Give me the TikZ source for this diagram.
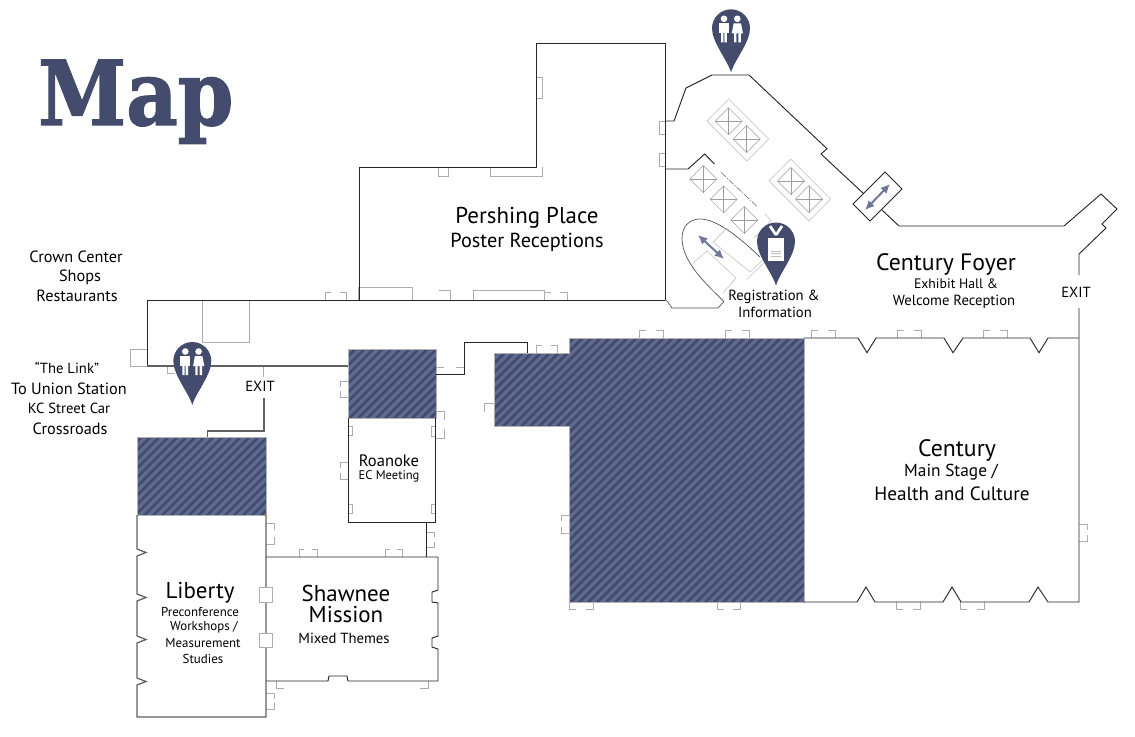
\documentclass[tikz,border=0pt]{standalone}
\usepackage{fontspec}
\setmainfont{PT Sans}
\newfontfamily\mapfont[BoldFeatures={FakeBold=1.6}]{DejaVu Serif}
\usetikzlibrary{arrows.meta}
\definecolor{pinblue}{HTML}{444C6D}
\definecolor{stripelight}{HTML}{5F6A92}
\definecolor{arrowblue}{HTML}{6F7899}
\tikzset{
wallblack/.style={draw=black!85,line width=.7pt,line join=miter},
wallgrey/.style={draw=black!62,line width=.95pt,line join=miter},
wallthin/.style={draw=black!70,line width=.5pt},
doorgrey/.style={draw=black!32,line width=.6pt},
kioskouter/.style={draw=black!20,line width=.55pt},
kioskinner/.style={draw=black!38,line width=.35pt},
stripeline/.style={draw=stripelight,line width=2.4pt},
stripeedge/.style={draw=black!30,line width=.6pt},
movearrow/.style={draw=arrowblue,line width=1.5pt,{Latex[length=7pt,width=6.5pt]}-{Latex[length=7pt,width=6.5pt]}},
namebig/.style={inner sep=0pt,font=\fontsize{17.2}{20}\selectfont},
namelarge/.style={inner sep=0pt,font=\fontsize{17.8}{20}\selectfont},
nameposter/.style={inner sep=0pt,font=\fontsize{15.2}{18}\selectfont},
namemid/.style={inner sep=0pt,font=\fontsize{14.4}{16}\selectfont},
nameroom/.style={inner sep=0pt,font=\fontsize{12.4}{15}\selectfont},
nameside/.style={inner sep=0pt,font=\fontsize{12.2}{15}\selectfont},
namesmall/.style={inner sep=0pt,font=\fontsize{11}{13}\selectfont},
nametiny/.style={inner sep=0pt,font=\fontsize{9.7}{11}\selectfont},
kioskmark/.pic={
\draw[kioskinner] (-13.5,0) -- (0,-13.5) -- (13.5,0) -- (0,13.5) -- cycle;
\draw[kioskinner] (-13.5,0) -- (13.5,0) (0,-13.5) -- (0,13.5);
},
pinbody/.pic={
\fill[pinblue] (0,44) .. controls (-4,31) and (-19,14) .. (-19,0) arc[start angle=180,end angle=360,radius=19] .. controls (19,14) and (4,31) .. (0,44) -- cycle;
},
restroomicon/.pic={
\fill[white] (-7,-9.5) circle[radius=3.3] (6.3,-9.5) circle[radius=3.3];
\fill[white] (-12,-5) rectangle (-2,4.5);
\fill[white] (-10,4) rectangle (-7.6,14) (-6.6,4) rectangle (-4.2,14);
\fill[white] (2.6,-5) -- (10,-5) -- (12,5) -- (0.8,5) -- cycle;
\fill[white] (3,4) rectangle (5.4,14) (7.4,4) rectangle (9.8,14);
},
}
\begin{document}
\begin{tikzpicture}[x=.75pt,y=-.75pt]
\useasboundingbox (0,0) rectangle (1135,736);

% striped rooms
\fill[pinblue] (494,353) -- (569,353) -- (569,338) -- (804,338) -- (804,602) -- (569,602) -- (569,426) -- (494,426) -- cycle;
\fill[pinblue] (348,349) rectangle (436,418);
\fill[pinblue] (137,437) rectangle (266,515);
\begin{scope}
\clip (494,353) -- (569,353) -- (569,338) -- (804,338) -- (804,602) -- (569,602) -- (569,426) -- (494,426) -- cycle
(348,349) rectangle (436,418)
(137,437) rectangle (266,515);
\foreach \s in {-400,-391,...,1500} {
\draw[stripeline] (\s,740) -- ++(720,-720);
}
\end{scope}
\draw[stripeedge] (494,353) -- (569,353) -- (569,338) -- (804,338) -- (804,602) -- (569,602) -- (569,426) -- (494,426) -- cycle;
\draw[stripeedge] (348,349) rectangle (436,418);
\draw[stripeedge] (137,437) rectangle (266,515);

% door marks on the walls
\foreach \xa/\ya/\w in {325/300/21,544/300/23,536/353/21,639/338/24,725/338/24,811/338/24,897/338/24,983/338/24,299/557/18,385/557/17} {
\draw[doorgrey] (\xa,\ya) -- ++(0,-7.5) -- ++({.3*\w},0);
\draw[doorgrey] (\xa+\w,\ya) -- ++(0,-7.5) -- ++({-.3*\w},0);
}
\foreach \xa/\ya/\w in {569/602/24,717/602/23,896/602/24,960/602/24} {
\draw[doorgrey] (\xa,\ya) -- ++(0,7.5) -- ++({.3*\w},0);
\draw[doorgrey] (\xa+\w,\ya) -- ++(0,7.5) -- ++({-.3*\w},0);
}
\foreach \xa/\ya/\w in {348/381/16,348/462/17,569/515/18} {
\draw[doorgrey] (\xa,\ya) -- ++(-8,0) -- ++(0,{.35*\w});
\draw[doorgrey] (\xa,\ya+\w) -- ++(-8,0) -- ++(0,{-.35*\w});
}
\foreach \xa/\ya/\w in {436/411/27,266/523/21,426/532/15,266/693/16,1079/524/17} {
\draw[doorgrey] (\xa,\ya) -- ++(8,0) -- ++(0,{.35*\w});
\draw[doorgrey] (\xa,\ya+\w) -- ++(8,0) -- ++(0,{-.35*\w});
}
\draw[doorgrey] (436,367) -- (444,367) (456,367) -- (464,367);
\draw[doorgrey] (494,403) -- (484,403) -- (484,412);
\draw[doorgrey] (167,366) -- (167,373) -- (175,373);
\draw[doorgrey] (439,290) -- (450,290) -- (450,300);
\draw[doorgrey] (263,366) -- (263,377);
\draw[doorgrey] (276,681) -- (276,688) -- (284,688);
\draw[doorgrey] (420,688) -- (428,688) -- (428,681);
\draw[doorgrey] (358,300) -- (358,287) -- (412,287) -- (412,300);
\draw[doorgrey] (473,300) -- (473,290) -- (544,290) -- (544,300);
\draw[doorgrey] (202,300) -- (202,342) -- (249,342) -- (249,300);
\draw[doorgrey] (147,349) -- (130,349) -- (130,366) -- (147,366);
\draw[doorgrey] (536,77) -- (542,77) -- (542,98) -- (536,98);
\draw[doorgrey] (665,121) -- (659,121) -- (659,134) -- (665,134);
\draw[doorgrey] (665,153) -- (659,153) -- (659,166) -- (665,166);
\draw[doorgrey] (438,167) -- (438,176) -- (448,176) -- (448,167);
\draw[doorgrey] (490,167) -- (490,176) -- (542,176) -- (542,167);
\draw[doorgrey] (348,426) -- (352.5,426) -- (352.5,435) -- (348,435);
\draw[doorgrey] (435,426) -- (431,426) -- (431,436) -- (435,436);
\draw[doorgrey] (348,504) -- (352.5,504) -- (352.5,513) -- (348,513);
\draw[doorgrey] (435,504) -- (431,504) -- (431,513) -- (435,513);

% walls
\draw[wallblack] (665,300) -- (359,300) -- (359,167) -- (536,167) -- (536,43) -- (665,43) -- (665,300);
\draw[wallblack] (359,300) -- (147,300) -- (147,366);
\draw[wallgrey] (147,366) -- (348,366);
\draw[wallblack] (436,374) -- (464,374) -- (464,342) -- (527,342) -- (527,353);
\draw[wallgrey] (207.5,437) -- (207.5,431) -- (264,431) -- (264,398);
\draw[wallblack] (348,418) -- (348,522) -- (435,522) -- (435,418);
\draw[wallblack] (426,522) -- (426,557);
\draw[wallgrey] (137,515) -- (137,549) -- (146,552.5) -- (137,556) -- (137,594) -- (146,597.5) -- (137,601) -- (137,636) -- (146,639.5) -- (137,643) -- (137,678) -- (146,681.5) -- (137,685) -- (137,717) -- (266,717) -- (266,515);
\draw[wallblack] (266,557) -- (438,557) -- (438,590) -- (432,592) -- (432,602) -- (438,603) -- (438,636) -- (432,638) -- (432,647) -- (438,649) -- (438,681) -- (348,681) -- (347,676) -- (329,676) -- (328,681) -- (266,681);
\draw[wallblack] (665,121) -- (674,121) -- (686,88) -- (712,75) -- (749,75) -- (827,148.7) -- (821,154) -- (864,194);
\draw[wallblack] (882,210) -- (899,226) -- (1064,226) -- (1101,194) -- (1117,209) -- (1102,224) -- (1106,228) -- (1079,254) -- (1079,275);
\draw[wallblack] (1079,308) -- (1079,602) -- (1048,602) -- (1038,587) -- (1029,602) -- (961,602) -- (952,587) -- (943,602) -- (875,602) -- (866,587) -- (857,602) -- (804,602);
\draw[wallblack] (804,338) -- (858,338) -- (867,352.7) -- (876,338) -- (944,338) -- (953,352.7) -- (963,338) -- (1030,338) -- (1039,352.7) -- (1048,338) -- (1079,338);
\draw[wallblack] (665,169) -- (688,169) -- (704.7,154) -- (714.5,164);
\draw[wallthin] (665,300) -- (667,301) -- (672,308) -- (718,308) -- (724,301.5) .. controls (706,284) and (682,262) .. (682,238) .. controls (682,226) and (690,219) .. (700,219) .. controls (718,219) and (742,240) .. (760,257);

% white door boxes
\draw[doorgrey,fill=white] (259,587) rectangle (272,602);
\draw[doorgrey,fill=white] (259,633) rectangle (272,647);

% escalator and kiosks
\draw[wallblack,fill=white,line width=.6pt] (885,172) -- (902,189) -- (870,221) -- (853,204) -- cycle;
\draw[movearrow] (865,210) -- (890,184);
\draw[kioskouter] (728.7,99) -- (768.7,139) -- (747,161) -- (707,121) -- cycle;
\draw[kioskouter] (790.7,159) -- (830.7,199) -- (809,221) -- (769,181) -- cycle;
\foreach \xa/\ya in {728.7/121.3,746.7/139,791/181,809/199,703.3/179,723.7/199.3,744.3/220} {
\pic at (\xa,\ya) {kioskmark};
}
\draw[black!60,line width=.4pt,dash pattern=on 5pt off 1pt on 1pt off 1pt] (721,172.3) -- (757.3,206.7);
\draw[kioskouter] (765,214) -- (771.3,220.7) -- (754,238);
\draw[kioskouter] (727,228) -- (713,242) -- (750,272) -- (765,258);
\draw[kioskouter] (707,251) -- (693,263) (707,251) -- (736,278) -- (723,293);
\draw[kioskouter] (747,279) -- (765,262);
\draw[movearrow] (698,235) -- (724,259);

% pins
\pic at (731,28.3) {pinbody};
\pic at (731,28.3) {restroomicon};
\pic at (192.3,361) {pinbody};
\pic at (192.3,361) {restroomicon};
\pic at (776,241.5) {pinbody};
\fill[white] (768.3,237.5) rectangle (784.3,260.5);
\draw[white,line width=2pt] (770,226) -- (776,235) (782,226) -- (776,235);
\draw[black!25,line width=.4pt] (771,251) -- (781,251) (771,253.5) -- (781,253.5) (771,256) -- (781,256);

% labels
\node[inner sep=0pt,text=pinblue,anchor=base west] at (38,125) (maptitle) {\mapfont\fontsize{67}{70}\selectfont\bfseries\scalebox{.89}[1]{Map}};
\node[namebig] at (527,217.5) (pershing) {Pershing Place};
\node[nameposter] at (527,242) (poster) {Poster Receptions};
\node[namelarge] at (946,264) (foyer) {Century Foyer};
\node[namesmall,font=\fontsize{10.3}{13}\selectfont] at (956,283.5) (exhibit) {Exhibit Hall \&};
\node[namesmall] at (954,302) (welcome) {Welcome Reception};
\node[namesmall] at (774,297) (registration) {Registration \&};
\node[namesmall] at (775,312.5) (information) {Information};
\node[namesmall] at (1076,292.5) (exiteast) {EXIT};
\node[namesmall] at (260,386.5) (exitwest) {EXIT};
\node[nameside] at (76,256.5) (crown) {Crown Center};
\node[nameside] at (80,277) (shops) {Shops};
\node[nameside] at (77,296) (restaurants) {Restaurants};
\node[namesmall] at (67,368) (thelink) {``The Link''};
\node[nameside] at (69,388.5) (union) {To Union Station};
\node[namesmall] at (69,408.5) (streetcar) {KC Street Car};
\node[nameside] at (70,428.5) (crossroads) {Crossroads};
\node[namelarge] at (957,450) (century) {Century};
\node[namemid,font=\fontsize{13}{16}\selectfont] at (951,472) (mainstage) {Main Stage /};
\node[namemid] at (952,493.5) (health) {Health and Culture};
\node[nameroom] at (389,460.5) (roanoke) {Roanoke};
\node[nametiny,font=\fontsize{9.4}{11}\selectfont] at (389,476) (ecmeeting) {EC Meeting};
\node[namebig] at (200,593) (liberty) {Liberty};
\node[nametiny] at (200,612) (preconf) {Preconference};
\node[nametiny] at (204,627) (workshops) {Workshops /};
\node[nametiny] at (203,643) (measure) {Measurement};
\node[nametiny] at (203,658.5) (studies) {Studies};
\node[namebig] at (346,593) (shawnee) {Shawnee};
\node[namebig] at (346,615) (mission) {Mission};
\node[namesmall] at (344,638.5) (mixed) {Mixed Themes};
\end{tikzpicture}
\end{document}
